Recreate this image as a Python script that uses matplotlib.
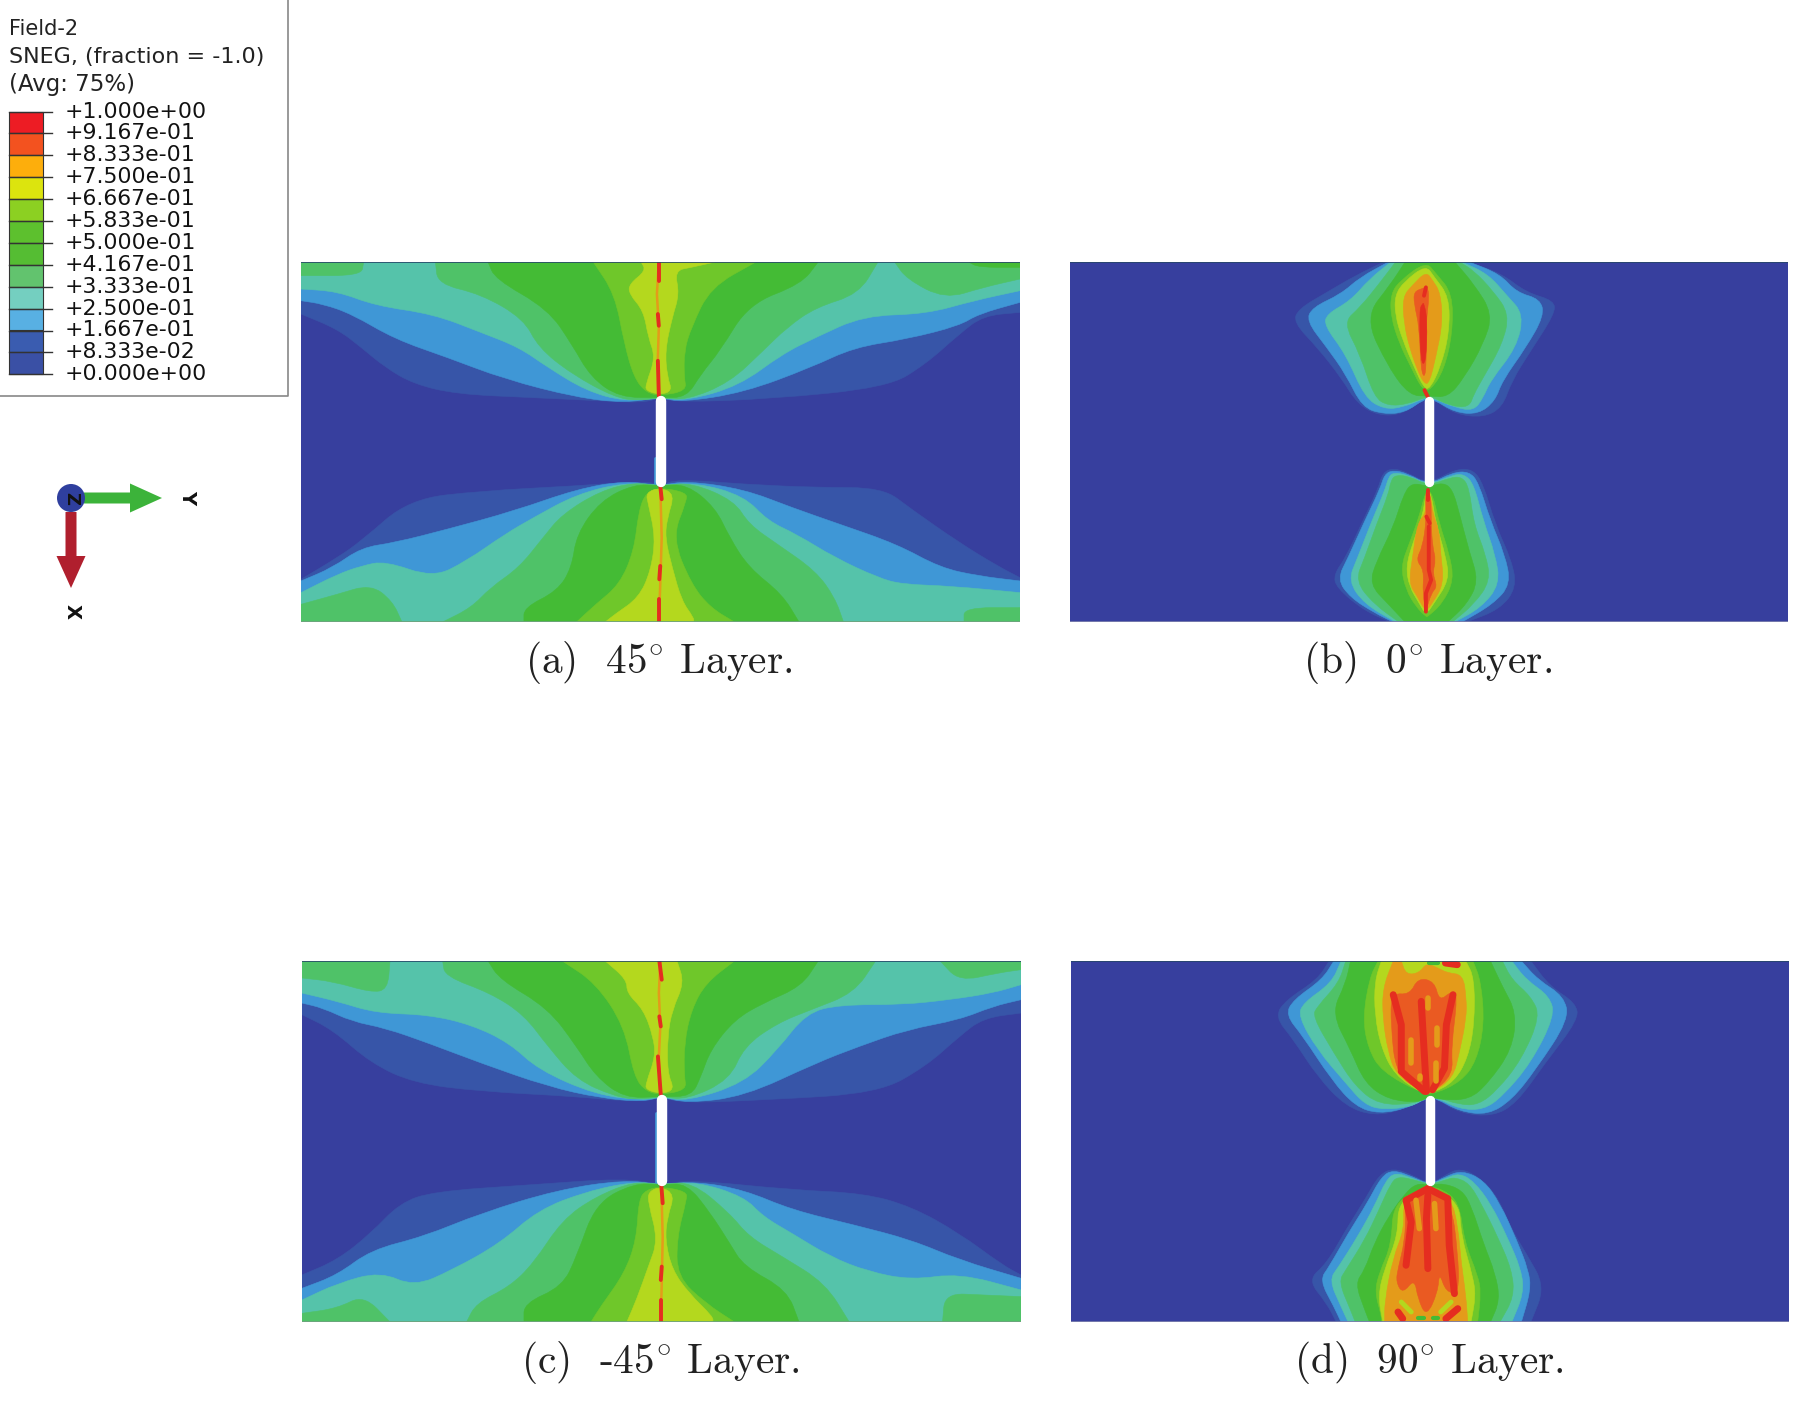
import matplotlib
matplotlib.use('Agg')
import matplotlib.pyplot as plt
import numpy as np
from matplotlib.patches import Circle, FancyArrow, PathPatch
from matplotlib.path import Path

# legend of the contour plot
legend_title = ['Field-2', 'SNEG, (fraction = -1.0)', '(Avg: 75%)']
legend_title_sizes = [15, 16, 16.5]
legend_values = ['+1.000e+00', '+9.167e-01', '+8.333e-01', '+7.500e-01', '+6.667e-01', '+5.833e-01', '+5.000e-01',
                 '+4.167e-01', '+3.333e-01', '+2.500e-01', '+1.667e-01', '+8.333e-02', '+0.000e+00']
legend_colors = ['#ed1c24', '#f3521f', '#fdae0c', '#dce40e', '#8cd022', '#5dc02e', '#55bd33',
                 '#62c36e', '#74cfc0', '#58b0e3', '#3a5cb0', '#3a50a5']

# colours of the contour bands in the panels, lowest first
band_colors = ['#373f9e', '#3755a8', '#3f97d6', '#55c3aa', '#4fc268', '#44bb35', '#6fc72a', '#b4d81e',
               '#e49b1a', '#ea5a22', '#e52d20']

captions = [r'(a)  45$^{\circ}$ Layer.', r'(b)  0$^{\circ}$ Layer.', r'(c)  -45$^{\circ}$ Layer.', r'(d)  90$^{\circ}$ Layer.']

# contour outlines, (x, y) in read-off units of each panel
########## panel a
a_top_1 = [(24,34),(24,190),(100,235),(150,290),(200,350),(260,400),(350,430),(500,440),(650,450),(740,456),(775,440),(810,454),(1000,445),(1250,410),(1330,340),(1400,250),(1450,195),(1527,185),(1527,34)]
a_top_2 = [(24,34),(24,150),(70,160),(130,190),(220,265),(330,320),(450,385),(600,440),(700,456),(775,440),(820,454),(950,425),(1090,350),(1180,290),(1290,265),(1400,225),(1440,190),(1527,155),(1527,34)]
a_top_3 = [(24,34),(24,115),(100,122),(180,165),(300,190),(400,245),(480,290),(540,350),(620,420),(700,452),(775,440),(830,450),(940,405),(1030,310),(1100,260),(1200,195),(1330,190),(1430,150),(1527,120),(1527,34)]
a_top_4 = [(305,34),(310,100),(400,130),(490,205),(520,290),(590,370),(680,440),(730,450),(775,440),(830,448),(920,395),(990,300),(1040,230),(1100,170),(1190,130),(1230,34)]
a_tl_4 = [(24,34),(155,34),(150,75),(24,75)]
a_tr_4 = [(1265,34),(1290,85),(1370,145),(1450,110),(1527,85),(1527,34)]
a_tr_5 = [(1420,34),(1527,34),(1527,50),(1440,50)]
a_top_5 = [(415,34),(430,85),(540,175),(590,280),(630,380),(690,440),(775,440),(830,440),(860,370),(900,300),(960,160),(1070,100),(1105,34)]
a_top_6 = [(635,34),(680,130),(700,280),(720,380),(745,425),(775,435),(830,420),(825,380),(825,300),(840,230),(880,110),(975,34)]
a_top_7 = [(735,34),(745,60),(710,100),(710,130),(740,180),(750,260),(765,320),(745,400),(745,420),(775,432),(800,420),(790,380),(785,300),(800,200),(815,130),(805,60),(840,50),(890,34)]
a_bot_1 = [(24,1113),(24,985),(100,920),(150,870),(250,745),(400,720),(600,705),(745,690),(775,705),(810,685),(950,700),(1100,710),(1240,710),(1300,775),(1400,875),(1480,945),(1527,980),(1527,1113)]
a_bot_2 = [(24,1113),(24,990),(90,950),(150,890),(220,875),(330,835),(470,780),(600,715),(700,690),(775,705),(830,690),(950,715),(1050,770),(1150,820),(1270,880),(1360,950),(1440,975),(1527,990),(1527,1113)]
a_bot_3 = [(24,1113),(24,1025),(100,970),(150,945),(200,930),(300,980),(370,930),(450,850),(510,800),(600,730),(700,695),(775,705),(850,695),(950,735),(1000,810),(1060,850),(1140,920),(1230,980),(1280,1000),(1380,1005),(1527,1025),(1527,1113)]
a_bl_4 = [(24,1113),(24,1060),(100,1030),(170,1000),(215,1050),(235,1113)]
a_bot_4 = [(320,1113),(380,1070),(420,1010),(480,950),(530,860),(570,790),(650,720),(720,695),(775,705),(840,695),(930,750),(960,820),(1020,880),(1100,960),(1140,1040),(1158,1113)]
a_br_4 = [(1410,1113),(1410,1070),(1527,1070),(1527,1113)]
a_bot_5 = [(490,1113),(490,1070),(560,1020),(590,950),(600,850),(650,750),(720,700),(775,705),(830,700),(890,770),(920,860),(960,950),(1030,1030),(1065,1113)]
a_bot_6 = [(600,1113),(640,1060),(690,1000),(720,900),(730,780),(745,725),(775,710),(830,725),(830,750),(800,860),(840,1000),(880,1070),(930,1113)]
a_bot_7 = [(660,1113),(680,1090),(730,1040),(755,960),(765,860),(750,760),(745,725),(775,710),(805,730),(790,800),(785,860),(800,950),(820,1050),(845,1100),(845,1113)]
a_orange = [(772,34),(768,130),(772,230),(770,320),(772,435)], [(775,705),(778,860),(775,1000),(772,1113)]
a_red = [(772,34),(772,90)], [(770,190),(772,225)], [(770,330),(772,435)], [(775,705),(778,745)], [(775,945),(773,985)], [(772,1045),(772,1113)]
a_blue = [(763,620),(763,695)]
########## panel b
b_top_1 = [(680,34),(620,75),(560,125),(500,175),(490,215),(540,290),(590,380),(625,460),(670,495),(720,490),(765,445),(775,440),(785,445),(830,490),(890,500),(930,470),(950,390),(990,300),(1040,190),(1040,150),(980,125),(930,70),(860,34)]
b_top_2 = [(690,34),(630,80),(590,130),(530,170),(517,210),(560,290),(600,370),(635,470),(680,490),(725,485),(765,445),(785,445),(830,485),(880,490),(915,450),(930,390),(980,290),(1018,195),(1010,145),(960,125),(925,70),(860,34)]
b_top_3 = [(695,34),(650,85),(610,150),(560,190),(555,225),(600,310),(640,440),(680,475),(720,470),(770,440),(780,440),(830,470),(870,480),(890,440),(905,390),(960,290),(975,190),(940,135),(900,70),(845,34)]
b_top_4 = [(705,34),(670,100),(630,170),(595,215),(630,310),(660,440),(690,465),(730,460),(770,438),(782,438),(820,465),(860,470),(870,430),(890,380),(930,280),(945,190),(910,120),(870,60),(840,34)]
b_top_5 = [(725,34),(695,100),(640,200),(690,350),(735,435),(775,435),(815,440),(850,380),(890,280),(910,190),(870,100),(830,34)]
b_top_6 = [(769,33),(716,88),(695,128),(695,198),(713,278),(737,348),(762,418),(779,418),(807,358),(825,248),(825,128),(790,68)]
b_top_7 = [(769,43),(723,93),(704,133),(704,193),(720,268),(744,348),(765,413),(778,413),(800,348),(818,248),(818,138),(786,78)]
b_top_8 = [(769,63),(741,103),(720,138),(723,218),(734,288),(751,358),(765,398),(776,398),(790,318),(804,218),(800,128),(783,88)]
b_top_9 = [(762,113),(744,123),(744,158),(755,228),(758,348),(765,383),(770,348),(769,218),(776,138),(772,108)]
b_top_10 = [(762,158),(755,178),(758,338),(769,338),(772,208),(765,158)]
b_bot_1 = [(775,700),(730,665),(700,652),(678,665),(668,715),(636,810),(600,920),(575,970),(580,1010),(640,1080),(695,1113),(855,1113),(925,1075),(960,1010),(950,930),(915,820),(890,700),(868,655),(830,655)]
b_bot_2 = [(775,702),(730,668),(700,658),(682,670),(672,715),(640,810),(605,920),(582,985),(610,1040),(660,1085),(700,1113),(845,1113),(910,1060),(948,1000),(935,910),(905,810),(880,695),(860,662),(825,665)]
b_bot_3 = [(775,703),(730,672),(700,665),(690,680),(682,720),(655,810),(625,920),(605,990),(640,1060),(705,1113),(830,1113),(885,1070),(925,1000),(915,910),(890,810),(870,700),(850,670),(825,672)]
b_bot_4 = [(775,705),(735,677),(705,672),(695,690),(690,730),(665,820),(640,920),(620,990),(660,1060),(712,1113),(825,1113),(870,1060),(905,990),(895,910),(870,820),(860,710),(845,678),(820,680)]
b_bot_5 = [(775,708),(740,695),(722,730),(700,830),(665,930),(650,1000),(690,1060),(725,1113),(815,1113),(855,1060),(880,990),(860,900),(840,790),(825,715),(805,695)]
b_bot_6 = [(769,717),(755,797),(734,877),(716,947),(727,1017),(748,1067),(769,1097),(773,1097),(804,1057),(828,987),(818,907),(797,817),(783,727)]
b_bot_7 = [(770,717),(762,797),(741,877),(727,947),(734,1007),(755,1057),(769,1092),(786,1057),(818,987),(811,917),(790,817),(780,727)]
b_bot_8 = [(770,737),(769,787),(751,817),(741,917),(733,997),(751,1037),(768,1082),(783,1057),(807,997),(800,907),(797,837),(783,787),(780,737)]
b_bot_9 = [(770,712),(768,747),(770,807),(762,887),(748,927),(765,957),(762,1027),(769,1082),(780,1027),(793,1007),(783,967),(790,927),(783,887),(780,817),(780,737)]
b_red = [(769,110),(765,135)], [(766,418),(773,438)], [(774,717),(774,747)], [(770,797),(777,817)], [(775,827),(775,957),(780,987),(769,1027),(769,1082)]
########## panel c
c_top_1 = [(26,34),(26,195),(90,240),(170,340),(260,400),(400,425),(600,440),(700,455),(777,440),(820,460),(1000,450),(1230,430),(1330,350),(1400,260),(1450,205),(1529,190),(1529,34)]
c_top_2 = [(26,34),(26,160),(70,175),(130,215),(200,235),(290,280),(400,340),(540,410),(650,445),(740,456),(777,440),(830,460),(950,440),(1100,340),(1190,290),(1290,240),(1400,210),(1470,170),(1529,150),(1529,34)]
c_top_3 = [(26,34),(26,130),(100,155),(180,190),(290,195),(380,225),(460,280),(520,360),(640,435),(740,452),(777,440),(830,455),(950,400),(1020,300),(1080,190),(1150,165),(1280,165),(1380,150),(1470,130),(1529,105),(1529,34)]
c_tl_4 = [(26,34),(210,34),(205,120),(170,128),(90,95),(26,85)]
c_tr_4 = [(1360,34),(1400,95),(1480,70),(1529,60),(1529,34)]
c_top_4 = [(320,34),(325,80),(420,130),(490,195),(540,290),(600,390),(680,440),(730,450),(777,440),(830,450),(920,390),(950,290),(1020,220),(1090,180),(1180,130),(1225,34)]
c_top_5 = [(415,34),(440,90),(540,175),(600,290),(640,380),(700,445),(777,440),(840,440),(860,380),(880,300),(930,210),(990,160),(1070,110),(1105,34)]
c_top_6 = [(570,34),(640,100),(700,230),(720,380),(745,425),(777,435),(830,420),(825,380),(825,280),(840,180),(870,100),(930,34)]
c_top_7 = [(660,34),(705,90),(705,130),(740,180),(760,260),(765,320),(745,400),(745,420),(777,432),(805,420),(790,370),(790,260),(800,180),(825,100),(810,34)]
c_bot_1 = [(26,1116),(26,975),(100,930),(170,850),(230,760),(300,725),(500,705),(700,685),(777,705),(840,690),(1050,720),(1200,730),(1300,770),(1400,850),(1490,945),(1529,975),(1529,1116)]
c_bot_2 = [(26,1116),(26,1015),(100,975),(170,900),(280,860),(400,790),(560,720),(700,690),(777,705),(850,695),(950,720),(1050,780),(1180,825),(1300,870),(1400,930),(1529,985),(1529,1116)]
c_bot_3 = [(26,1116),(26,1050),(100,1000),(190,965),(260,1010),(340,960),(440,880),(520,780),(620,725),(720,695),(777,705),(850,695),(950,740),(990,800),(1050,850),(1130,920),(1210,965),(1300,990),(1400,970),(1529,1020),(1529,1116)]
c_bl_4 = [(26,1116),(26,1090),(100,1075),(155,1035),(210,1116)]
c_bot_4 = [(370,1116),(390,1060),(460,1010),(510,940),(570,810),(640,740),(720,695),(777,705),(840,695),(920,790),(960,860),(1030,920),(1120,1000),(1170,1116)]
c_br_4 = [(1365,1116),(1370,1030),(1450,1035),(1529,1040),(1529,1116)]
c_bot_5 = [(490,1116),(490,1060),(570,1010),(600,920),(640,760),(720,700),(777,705),(830,700),(880,790),(920,880),(950,950),(1040,1020),(1065,1116)]
c_bot_6 = [(630,1116),(650,1070),(700,970),(725,870),(730,750),(745,720),(777,710),(830,725),(830,750),(810,860),(810,980),(870,1060),(930,1116)]
c_bot_7 = [(705,1116),(725,1050),(750,950),(770,870),(750,760),(750,725),(777,710),(805,735),(790,800),(785,870),(800,960),(835,1030),(885,1100),(885,1116)]
c_orange = [(775,34),(772,130),(775,230),(772,320),(775,435)], [(777,705),(780,860),(778,1000),(776,1116)]
c_red = [(773,34),(778,90)], [(773,200),(776,230)], [(770,320),(776,435)], [(777,705),(780,760)], [(778,950),(776,990)], [(776,1050),(776,1116)]
c_blue = [(765,490),(765,695)]
########## panel d
d_top_1 = [(565,34),(540,90),(475,150),(450,200),(490,270),(540,380),(600,470),(660,498),(720,480),(770,445),(790,445),(840,490),(910,500),(960,460),(1020,340),(1090,210),(1085,160),(1030,110),(990,34)]
d_top_2 = [(575,34),(550,90),(490,150),(473,195),(510,260),(570,390),(620,470),(670,492),(730,475),(770,445),(790,445),(840,485),(900,495),(950,450),(1000,360),(1070,210),(1060,140),(1005,90),(970,34)]
d_top_3 = [(590,34),(570,100),(510,160),(500,200),(540,300),(600,400),(640,465),(680,480),(740,470),(770,443),(790,443),(840,478),(890,480),(930,440),(990,340),(1040,200),(1030,140),(980,90),(950,34)]
d_top_4 = [(600,34),(585,100),(540,170),(530,200),(575,310),(620,410),(670,465),(745,462),(770,441),(790,441),(840,465),(880,465),(920,420),(970,330),(1010,200),(990,140),(950,90),(930,34)]
d_top_5 = [(610,34),(600,100),(570,190),(610,300),(640,400),(690,450),(755,458),(775,440),(800,450),(860,450),(900,400),(950,300),(960,190),(930,110),(905,34)]
d_top_6 = [(668,34),(650,85),(636,205),(647,295),(675,365),(759,430),(787,433),(843,395),(875,335),(892,225),(885,95),(868,34)]
d_top_7 = [(675,34),(661,95),(661,195),(675,295),(703,375),(759,430),(784,430),(829,395),(857,325),(871,225),(871,85),(853,34)]
d_top_8 = [(700,34),(717,34),(727,75),(755,70),(770,40),(794,55),(815,70),(847,75),(854,145),(854,205),(840,305),(826,385),(780,430),(766,430),(706,375),(689,305),(678,205),(678,115)]
d_top_9 = [(752,85),(735,135),(696,130),(695,225),(706,375),(766,430),(780,430),(826,375),(822,295),(836,135),(822,125),(797,155),(787,95)]
d_bot_1 = [(778,705),(740,675),(700,655),(670,675),(640,750),(600,840),(560,940),(520,990),(560,1060),(580,1116),(990,1116),(1020,1010),(980,910),(950,840),(920,740),(880,680),(840,655),(810,675)]
d_bot_2 = [(778,705),(740,680),(700,660),(675,680),(645,760),(605,850),(565,950),(545,990),(575,1070),(590,1116),(970,1116),(990,1020),(985,960),(960,870),(925,760),(890,690),(845,662),(810,680)]
d_bot_3 = [(778,705),(740,685),(705,668),(685,690),(660,770),(625,860),(585,950),(565,990),(590,1070),(605,1116),(950,1116),(975,1030),(970,960),(940,860),(905,760),(870,695),(840,670),(810,685)]
d_bot_4 = [(778,705),(745,690),(710,680),(695,700),(670,780),(640,870),(600,960),(585,995),(610,1080),(620,1116),(925,1116),(955,1040),(950,960),(920,860),(885,760),(860,700),(830,682),(810,690)]
d_bot_5 = [(778,707),(750,700),(725,730),(690,800),(660,880),(640,960),(620,1000),(640,1080),(650,1116),(905,1116),(925,1050),(915,970),(890,880),(865,770),(845,720),(805,700)]
d_bot_6 = [(773,711),(700,756),(696,886),(671,966),(661,1026),(675,1096),(675,1116),(878,1116),(885,1026),(878,976),(850,876),(839,756),(801,716)]
d_bot_7 = [(773,711),(710,756),(710,856),(682,956),(668,1036),(678,1116),(864,1116),(874,1036),(867,976),(843,856),(839,756)]
d_bot_8 = [(773,711),(720,751),(724,836),(699,926),(682,1056),(682,1116),(857,1116),(853,1036),(843,936),(836,826),(822,746)]
d_bot_9 = [(773,708),(720,751),(727,786),(724,876),(710,956),(706,996),(720,1031),(745,986),(752,1046),(770,1101),(794,1026),(797,966),(811,1026),(839,1031),(836,906),(822,756)]
d_red = [(700,135),(717,225),(717,365),(766,425)], [(759,155),(766,325),(770,425)], [(826,135),(812,225),(808,355),(783,420)], [(773,716),(727,751),(738,816),(727,946)], [(773,736),(770,806),(773,956)], [(773,716),(815,746),(818,886),(829,1031)], [(710,1086),(720,1106)], [(811,1106),(836,1076)], [(810,40),(835,45)]
d_holes = [(773,145),(773,175)], [(792,235),(792,285)], [(737,270),(737,340)], [(790,340),(790,395)], [(756,378),(756,388)], [(748,751),(755,836)], [(787,761),(790,836)]
d_yellow = [(717,1056),(738,1086)], [(822,1056),(800,1086)]
d_green = [(752,1105),(765,1105)], [(783,1105),(795,1105)], [(775,40),(795,40)]

a_bands = [(1,a_top_1),(2,a_top_2),(3,a_top_3),(4,a_top_4),(4,a_tl_4),(4,a_tr_4),(5,a_tr_5),(5,a_top_5),(6,a_top_6),(7,a_top_7),
           (1,a_bot_1),(2,a_bot_2),(3,a_bot_3),(4,a_bl_4),(4,a_bot_4),(4,a_br_4),(5,a_bot_5),(6,a_bot_6),(7,a_bot_7)]
b_bands = [(1,b_top_1),(2,b_top_2),(3,b_top_3),(4,b_top_4),(5,b_top_5),(6,b_top_6),(7,b_top_7),(8,b_top_8),(9,b_top_9),(10,b_top_10),
           (1,b_bot_1),(2,b_bot_2),(3,b_bot_3),(4,b_bot_4),(5,b_bot_5),(6,b_bot_6),(7,b_bot_7),(8,b_bot_8),(9,b_bot_9)]
c_bands = [(1,c_top_1),(2,c_top_2),(3,c_top_3),(4,c_tl_4),(4,c_tr_4),(4,c_top_4),(5,c_top_5),(6,c_top_6),(7,c_top_7),
           (1,c_bot_1),(2,c_bot_2),(3,c_bot_3),(4,c_bl_4),(4,c_bot_4),(4,c_br_4),(5,c_bot_5),(6,c_bot_6),(7,c_bot_7)]
d_bands = [(1,d_top_1),(2,d_top_2),(3,d_top_3),(4,d_top_4),(5,d_top_5),(6,d_top_6),(7,d_top_7),(8,d_top_8),(9,d_top_9),
           (1,d_bot_1),(2,d_bot_2),(3,d_bot_3),(4,d_bot_4),(5,d_bot_5),(6,d_bot_6),(7,d_bot_7),(8,d_bot_8),(9,d_bot_9)]

a_strokes = [(2,2,[a_blue]),(8,1.8,a_orange),(10,2.8,a_red)]
b_strokes = [(10,2.8,b_red)]
c_strokes = [(2,2,[c_blue]),(8,1.8,c_orange),(10,2.8,c_red)]
d_strokes = [(7,3.5,d_yellow),(10,5,d_red),(8,4,d_holes),(5,3,d_green)]

W, H = 1805, 1416
fig = plt.figure(figsize=(W / 100, H / 100), dpi=100, facecolor='white')

# overlay in pixel coordinates for legend, triad and captions
page = fig.add_axes([0, 0, 1, 1])
page.set_xlim(0, W)
page.set_ylim(H, 0)
page.axis('off')


def smooth_outline(outline, limits):
    # read points are used as curve controls, points on the panel edge stay sharp
    verts, codes = [], []
    n = len(outline)
    first = outline[0]
    last = outline[-1]
    verts.append(((first[0] + last[0]) / 2, (first[1] + last[1]) / 2))
    codes.append(Path.MOVETO)
    for i, p in enumerate(outline):
        q = outline[(i + 1) % n]
        on_edge = p[0] in limits[:2] or p[1] in limits[2:]
        code = Path.LINETO if on_edge else Path.CURVE3
        verts += [p, ((p[0] + q[0]) / 2, (p[1] + q[1]) / 2)]
        codes += [code, code]
    return Path(verts, codes)


def draw_panel(box, limits, bands, strokes, bottom_color, notch_x, notch_lw):
    x0, y0, x1, y1 = box
    ax = fig.add_axes([x0 / W, 1 - y1 / H, (x1 - x0) / W, (y1 - y0) / H])
    ax.set_xlim(limits[0], limits[1])
    ax.set_ylim(limits[3], limits[2])
    ax.axis('off')
    ax.fill([limits[0], limits[1], limits[1], limits[0]], [limits[2], limits[2], limits[3], limits[3]],
            color=band_colors[0], lw=0)
    for level, outline in bands:
        ax.add_patch(PathPatch(smooth_outline(outline, limits), facecolor=band_colors[level],
                               edgecolor=band_colors[level], lw=0.4))
    for level, width, lines in strokes:
        for line in lines:
            xs, ys = zip(*line)
            ax.plot(xs, ys, color=band_colors[level], lw=width, solid_capstyle='round')
    ax.plot([notch_x, notch_x], [452, 692], color='white', lw=notch_lw, solid_capstyle='round')
    ax.axhline(limits[2], color='#27476a', lw=1.2)
    ax.axhline(limits[3], color=bottom_color, lw=2)


draw_panel((301, 262, 1020, 622), (24, 1527, 34, 1113), a_bands, a_strokes, '#6ea37e', 776, 7.5)
draw_panel((1070, 262, 1788, 622), (19, 1532, 34, 1113), b_bands, b_strokes, '#7b7fae', 775, 6.8)
draw_panel((302, 961, 1021, 1322), (26, 1529, 34, 1116), c_bands, c_strokes, '#6ea37e', 778, 7.5)
draw_panel((1071, 961, 1789, 1322), (21, 1534, 34, 1116), d_bands, d_strokes, '#7b7fae', 778, 6.8)

# captions
caption_x = [659, 1428, 660, 1429]
caption_y = [662, 662, 1363, 1363]
for text, x, y in zip(captions, caption_x, caption_y):
    page.text(x, y, text, ha='center', va='center', fontsize=29.8, family='cmr10', math_fontfamily='cm', color='#222222')

# legend
page.plot([0, 288, 288], [396, 396, 0], color='#888888', lw=1.2)
for i, line in enumerate(legend_title):
    page.text(9, 29 + 27.5 * i, line, ha='left', va='center', fontsize=legend_title_sizes[i], color='#222222')
y_ticks = 111.5 + 21.9 * np.arange(len(legend_values))
page.barh(y_ticks[:-1] + 10.95, [34] * len(legend_colors), height=21.9, left=9, color=legend_colors,
          edgecolor='#333333', lw=0.8)
for y, label in zip(y_ticks, legend_values):
    page.plot([9, 52], [y, y], color='#333333', lw=1)
    page.text(65, y, label, ha='left', va='center', fontsize=15.8, color='#111111')

# triad
page.add_patch(FancyArrow(84, 498, 78, 0, width=11, head_width=29, head_length=32, length_includes_head=True,
                          color='#3cb33a', lw=0))
page.add_patch(FancyArrow(71, 512, 0, 76, width=11, head_width=29, head_length=32, length_includes_head=True,
                          color='#b01f2e', lw=0))
page.add_patch(Circle((71, 498), 14, color='#2f3f9e', lw=0))
page.text(71, 498, 'Z', ha='center', va='center', rotation=270, fontsize=13, fontweight='bold', color='#111111')
page.text(188, 497, 'Y', ha='center', va='center', rotation=270, fontsize=14, fontweight='bold', color='#111111')
page.text(72, 611, 'X', ha='center', va='center', rotation=270, fontsize=14, fontweight='bold', color='#111111')

fig.savefig('out.png', dpi=100)
